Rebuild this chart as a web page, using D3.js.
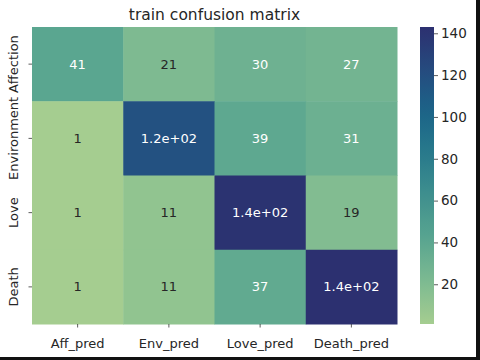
<!DOCTYPE html>
<html>
<head>
<meta charset="utf-8">
<script src="https://cdn.jsdelivr.net/npm/d3@7"></script>
<style>
  body { margin: 0; background: #fff; }
  svg { display: block; font-family: "DejaVu Sans", sans-serif; }
</style>
</head>
<body>
<svg width="480" height="360"></svg>
<script>
// confusion matrix data
var rowLabels = ["Affection", "Environment", "Love", "Death"];
var colLabels = ["Aff_pred", "Env_pred", "Love_pred", "Death_pred"];
var values = [
  [41, 21, 30, 27],
  [1, 118, 39, 31],
  [1, 11, 141, 19],
  [1, 11, 37, 143]
];
var cbarTicks = [20, 40, 60, 80, 100, 120, 140];

// seaborn "crest"-ish stops
var crest = ["#a5cd90", "#7dba91", "#59a590", "#40908e", "#287a8c", "#1c6488", "#254b7f", "#2c3070"];

var svg = d3.select("svg");

// frame edges from the screenshot
svg.append("rect").attr("x", 476).attr("y", 0).attr("width", 4).attr("height", 360).attr("fill", "#111");
svg.append("rect").attr("x", 0).attr("y", 357).attr("width", 480).attr("height", 3).attr("fill", "#111");

var hmLeft = 32, hmRight = 397, hmTop = 27, hmBottom = 324;

var flat = values.flat();
var vmin = d3.min(flat), vmax = d3.max(flat);

var color = d3.scaleSequential(d3.piecewise(d3.interpolateRgb, crest))
  .domain([vmin, vmax]);

var x = d3.scaleBand().domain(colLabels).range([hmLeft, hmRight]);
var y = d3.scaleBand().domain(rowLabels).range([hmTop, hmBottom]);

function fmt(v) {
  // python's .2g
  var s = (+v).toPrecision(2);
  if (s.indexOf("e") >= 0) {
    var parts = s.split("e");
    var sign = parts[1][0];
    var ex = parts[1].slice(1);
    if (ex.length < 2) ex = "0" + ex;
    return parts[0] + "e" + sign + ex;
  }
  return String(+s);
}

function lum(c) {
  var rgb = d3.rgb(c);
  var f = function(u) {
    u = u / 255;
    return u <= 0.03928 ? u / 12.92 : Math.pow((u + 0.055) / 1.055, 2.4);
  };
  return 0.2126 * f(rgb.r) + 0.7152 * f(rgb.g) + 0.0722 * f(rgb.b);
}

var cells = [];
values.forEach(function(row, i) {
  row.forEach(function(v, j) {
    cells.push({ r: rowLabels[i], c: colLabels[j], v: v });
  });
});

svg.append("g")
  .selectAll("rect")
  .data(cells)
  .enter().append("rect")
  .attr("x", function(d) { return x(d.c); })
  .attr("y", function(d) { return y(d.r); })
  .attr("width", x.bandwidth() + 0.5)
  .attr("height", y.bandwidth() + 0.5)
  .attr("fill", function(d) { return color(d.v); });

svg.append("g")
  .selectAll("text")
  .data(cells)
  .enter().append("text")
  .attr("x", function(d) { return x(d.c) + x.bandwidth() / 2; })
  .attr("y", function(d) { return y(d.r) + y.bandwidth() / 2; })
  .attr("text-anchor", "middle")
  .attr("dominant-baseline", "central")
  .attr("font-size", 13)
  .attr("fill", function(d) { return lum(color(d.v)) > 0.408 ? "#262626" : "#ffffff"; })
  .text(function(d) { return fmt(d.v); });

// axes
var xAxis = svg.append("g")
  .attr("transform", "translate(0," + hmBottom + ")")
  .call(d3.axisBottom(x).tickSize(3.5).tickPadding(11));
var yAxis = svg.append("g")
  .attr("transform", "translate(" + hmLeft + ",0)")
  .call(d3.axisLeft(y).tickSize(3.5).tickPadding(4));

[xAxis, yAxis].forEach(function(a) {
  a.select(".domain").remove();
  a.selectAll(".tick line").attr("stroke", "#333").attr("stroke-width", 0.8);
  a.selectAll(".tick text").attr("font-size", 13).attr("fill", "#262626").attr("font-family", "DejaVu Sans");
});

yAxis.selectAll(".tick text")
  .attr("text-anchor", "middle")
  .attr("transform", "translate(-19,0) rotate(-90)")
  .attr("x", 0)
  .attr("dy", "0.35em");

// title
svg.append("text")
  .attr("x", (hmLeft + hmRight) / 2)
  .attr("y", 20)
  .attr("text-anchor", "middle")
  .attr("font-size", 15.5)
  .attr("fill", "#262626")
  .text("train confusion matrix");

// colorbar
var cbX = 420, cbW = 14;
var cbY = d3.scaleLinear().domain([vmin, vmax]).range([hmBottom, hmTop]);

var grad = svg.append("defs").append("linearGradient")
  .attr("id", "cbar")
  .attr("x1", 0).attr("y1", 1).attr("x2", 0).attr("y2", 0);
d3.range(0, 1.0001, 0.05).forEach(function(t) {
  grad.append("stop")
    .attr("offset", t)
    .attr("stop-color", color(vmin + t * (vmax - vmin)));
});

svg.append("rect")
  .attr("x", cbX)
  .attr("y", hmTop)
  .attr("width", cbW)
  .attr("height", hmBottom - hmTop)
  .attr("fill", "url(#cbar)");

var cAxis = svg.append("g")
  .attr("transform", "translate(" + (cbX + cbW) + ",0)")
  .call(d3.axisRight(cbY).tickValues(cbarTicks).tickSize(4).tickPadding(3));
cAxis.select(".domain").remove();
cAxis.selectAll(".tick line").attr("stroke", "#333").attr("stroke-width", 0.8);
cAxis.selectAll(".tick text").attr("font-size", 13.5).attr("fill", "#262626").attr("font-family", "DejaVu Sans");
</script>
</body>
</html>
